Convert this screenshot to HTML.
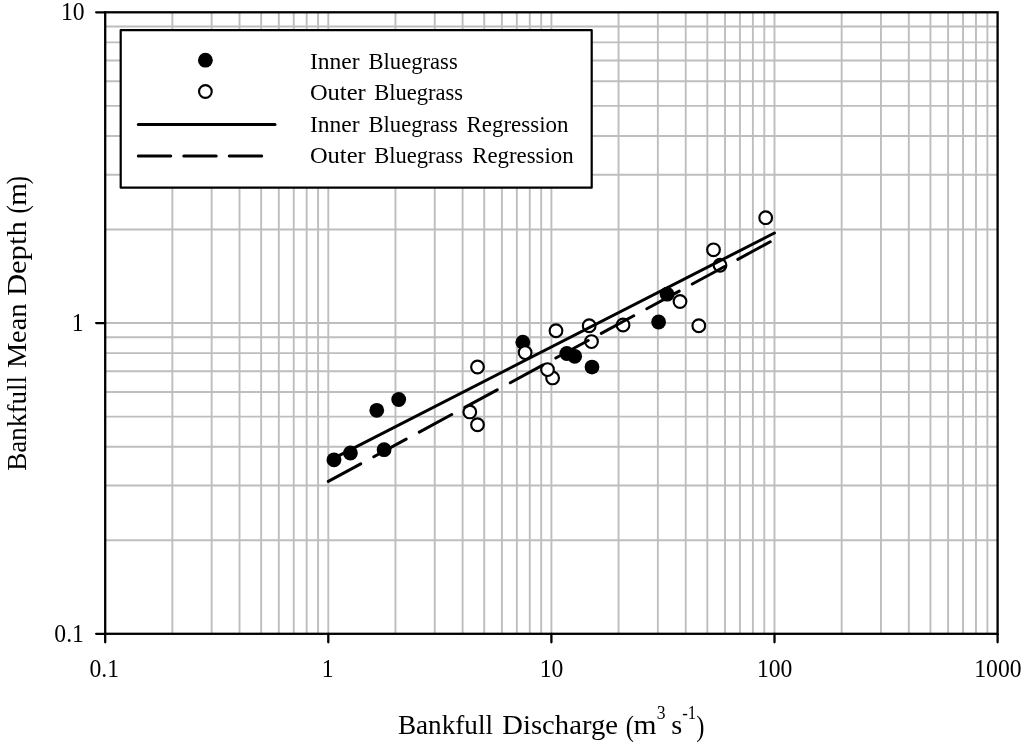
<!DOCTYPE html>
<html lang="en"><head><meta charset="utf-8"><title>Bankfull Mean Depth vs Bankfull Discharge</title>
<style>html,body{margin:0;padding:0;background:#fff}svg{display:block}text{font-family:"Liberation Serif","DejaVu Serif",serif;fill:#000}</style></head><body>
<svg width="1024" height="749" viewBox="0 0 1024 749">
<rect width="1024" height="749" fill="#fff"/>
<path d="M172.36 12.3 V633.8 M211.65 12.3 V633.8 M239.52 12.3 V633.8 M261.14 12.3 V633.8 M278.81 12.3 V633.8 M293.74 12.3 V633.8 M306.68 12.3 V633.8 M318.09 12.3 V633.8 M328.30 12.3 V633.8 M395.46 12.3 V633.8 M434.75 12.3 V633.8 M462.62 12.3 V633.8 M484.24 12.3 V633.8 M501.91 12.3 V633.8 M516.84 12.3 V633.8 M529.78 12.3 V633.8 M541.19 12.3 V633.8 M551.40 12.3 V633.8 M618.56 12.3 V633.8 M657.85 12.3 V633.8 M685.72 12.3 V633.8 M707.34 12.3 V633.8 M725.01 12.3 V633.8 M739.94 12.3 V633.8 M752.88 12.3 V633.8 M764.29 12.3 V633.8 M774.50 12.3 V633.8 M841.66 12.3 V633.8 M880.95 12.3 V633.8 M908.82 12.3 V633.8 M930.44 12.3 V633.8 M948.11 12.3 V633.8 M963.04 12.3 V633.8 M975.98 12.3 V633.8 M987.39 12.3 V633.8 M105.2 540.25 H997.6 M105.2 485.53 H997.6 M105.2 446.71 H997.6 M105.2 416.60 H997.6 M105.2 391.99 H997.6 M105.2 371.19 H997.6 M105.2 353.16 H997.6 M105.2 337.27 H997.6 M105.2 323.05 H997.6 M105.2 229.50 H997.6 M105.2 174.78 H997.6 M105.2 135.96 H997.6 M105.2 105.85 H997.6 M105.2 81.24 H997.6 M105.2 60.44 H997.6 M105.2 42.41 H997.6 M105.2 26.52 H997.6" stroke="#bebebe" stroke-width="1.9" fill="none"/>
<rect x="105.2" y="12.3" width="892.40" height="621.50" fill="none" stroke="#000" stroke-width="2.3"/>
<path d="M96.15 633.80 H105.2 M96.15 323.05 H105.2 M96.15 12.30 H105.2 M105.20 633.8 V642.25 M328.30 633.8 V642.25 M551.40 633.8 V642.25 M774.50 633.8 V642.25 M997.60 633.8 V642.25" stroke="#000" stroke-width="2.3" stroke-linecap="round" fill="none"/>
<circle cx="334.0" cy="459.8" r="7.4"/>
<circle cx="350.4" cy="453.0" r="7.4"/>
<circle cx="384.1" cy="449.7" r="7.4"/>
<circle cx="376.75" cy="410.3" r="7.4"/>
<circle cx="398.7" cy="399.5" r="7.4"/>
<circle cx="522.8" cy="342.2" r="7.4"/>
<circle cx="566.8" cy="353.5" r="7.4"/>
<circle cx="574.7" cy="356.3" r="7.4"/>
<circle cx="592.0" cy="367.1" r="7.4"/>
<circle cx="658.6" cy="322.0" r="7.4"/>
<circle cx="667.1" cy="294.2" r="7.4"/>
<circle cx="477.5" cy="367" r="6.35" fill="#fff" stroke="#000" stroke-width="2.15"/>
<circle cx="469.8" cy="411.9" r="6.35" fill="#fff" stroke="#000" stroke-width="2.15"/>
<circle cx="477.5" cy="424.7" r="6.35" fill="#fff" stroke="#000" stroke-width="2.15"/>
<circle cx="525.1" cy="352.6" r="6.35" fill="#fff" stroke="#000" stroke-width="2.15"/>
<circle cx="556.0" cy="330.7" r="6.35" fill="#fff" stroke="#000" stroke-width="2.15"/>
<circle cx="589.2" cy="325.7" r="6.35" fill="#fff" stroke="#000" stroke-width="2.15"/>
<circle cx="591.5" cy="341.6" r="6.35" fill="#fff" stroke="#000" stroke-width="2.15"/>
<circle cx="552.6" cy="377.9" r="6.35" fill="#fff" stroke="#000" stroke-width="2.15"/>
<circle cx="547.5" cy="369.6" r="6.35" fill="#fff" stroke="#000" stroke-width="2.15"/>
<circle cx="623.05" cy="325.05" r="6.35" fill="#fff" stroke="#000" stroke-width="2.15"/>
<circle cx="680.0" cy="301.5" r="6.35" fill="#fff" stroke="#000" stroke-width="2.15"/>
<circle cx="698.8" cy="325.7" r="6.35" fill="#fff" stroke="#000" stroke-width="2.15"/>
<circle cx="713.5" cy="249.8" r="6.35" fill="#fff" stroke="#000" stroke-width="2.15"/>
<circle cx="720.0" cy="265.2" r="6.35" fill="#fff" stroke="#000" stroke-width="2.15"/>
<circle cx="765.7" cy="217.7" r="6.35" fill="#fff" stroke="#000" stroke-width="2.15"/>
<line x1="328.2" y1="461.1" x2="774.4" y2="233.0" stroke="#000" stroke-width="3" stroke-linecap="round"/>
<line x1="328.3" y1="481.4" x2="774.4" y2="239.52" stroke="#000" stroke-width="3" stroke-linecap="round" stroke-dasharray="36.86 14.90"/>
<rect x="120.7" y="30.2" width="471" height="157.5" fill="#fff" stroke="#000" stroke-width="2.2" stroke-linejoin="round"/>
<circle cx="205.4" cy="60.2" r="7.4"/>
<circle cx="205.4" cy="91.5" r="6.35" fill="#fff" stroke="#000" stroke-width="2.15"/>
<line x1="138.3" y1="124.4" x2="275.0" y2="124.4" stroke="#000" stroke-width="3" stroke-linecap="round"/>
<line x1="138.3" y1="155.9" x2="262" y2="155.9" stroke="#000" stroke-width="3" stroke-linecap="round" stroke-dasharray="32.4 13.1"/>
<text y="69.2" font-size="23.4"><tspan x="309.9" textLength="49.6" lengthAdjust="spacingAndGlyphs">Inner</tspan> <tspan x="368.5" textLength="89.2" lengthAdjust="spacingAndGlyphs">Bluegrass</tspan></text>
<text y="100.4" font-size="23.4"><tspan x="309.9" textLength="55.8" lengthAdjust="spacingAndGlyphs">Outer</tspan> <tspan x="374.2" textLength="88.9" lengthAdjust="spacingAndGlyphs">Bluegrass</tspan></text>
<text y="131.7" font-size="23.4"><tspan x="309.9" textLength="49.6" lengthAdjust="spacingAndGlyphs">Inner</tspan> <tspan x="368.5" textLength="89.2" lengthAdjust="spacingAndGlyphs">Bluegrass</tspan> <tspan x="466.5" textLength="102.0" lengthAdjust="spacingAndGlyphs">Regression</tspan></text>
<text y="163.0" font-size="23.4"><tspan x="309.9" textLength="55.8" lengthAdjust="spacingAndGlyphs">Outer</tspan> <tspan x="374.2" textLength="88.9" lengthAdjust="spacingAndGlyphs">Bluegrass</tspan> <tspan x="472.2" textLength="101.4" lengthAdjust="spacingAndGlyphs">Regression</tspan></text>
<text x="60.96" y="20.3" font-size="24.5" textLength="23.64" lengthAdjust="spacingAndGlyphs">10</text>
<text x="71.78" y="330.8" font-size="24.5" textLength="11.82" lengthAdjust="spacingAndGlyphs">1</text>
<text x="54.35" y="641.6" font-size="24.5" textLength="29.55" lengthAdjust="spacingAndGlyphs">0.1</text>
<text x="89.52" y="676.6" font-size="24.5" textLength="29.55" lengthAdjust="spacingAndGlyphs">0.1</text>
<text x="321.79" y="676.6" font-size="24.5" textLength="11.82" lengthAdjust="spacingAndGlyphs">1</text>
<text x="539.68" y="676.6" font-size="24.5" textLength="23.64" lengthAdjust="spacingAndGlyphs">10</text>
<text x="756.97" y="676.6" font-size="24.5" textLength="35.46" lengthAdjust="spacingAndGlyphs">100</text>
<text x="974.26" y="676.6" font-size="24.5" textLength="47.28" lengthAdjust="spacingAndGlyphs">1000</text>
<g transform="translate(26 470.7) rotate(-90)">
<text><tspan x="0.0" y="0" font-size="28.2" textLength="94.7" lengthAdjust="spacingAndGlyphs">Bankfull</tspan> <tspan x="102.6" y="0" font-size="28.2" textLength="64.6" lengthAdjust="spacingAndGlyphs">Mean</tspan> <tspan x="174.6" y="0" font-size="28.2" textLength="74.8" lengthAdjust="spacingAndGlyphs">Depth</tspan> <tspan x="257.2" y="1.2" font-size="30.4" textLength="8.2" lengthAdjust="spacingAndGlyphs">(</tspan><tspan x="265.0" y="0" font-size="28.2" textLength="22.8" lengthAdjust="spacingAndGlyphs">m</tspan><tspan x="286.5" y="1.2" font-size="30.4" textLength="8.2" lengthAdjust="spacingAndGlyphs">)</tspan></text>
</g>
<text><tspan x="397.9" y="734.2" font-size="28.2" textLength="95.1" lengthAdjust="spacingAndGlyphs">Bankfull</tspan> <tspan x="502.3" y="734.2" font-size="28.2" textLength="115.7" lengthAdjust="spacingAndGlyphs">Discharge</tspan> <tspan x="625.8" y="735.5" font-size="30.4" textLength="8.2" lengthAdjust="spacingAndGlyphs">(</tspan><tspan x="633.6" y="734.2" font-size="28.2" textLength="23.0" lengthAdjust="spacingAndGlyphs">m</tspan><tspan x="656.8" y="719.3" font-size="19.6" textLength="8.8" lengthAdjust="spacingAndGlyphs">3</tspan> <tspan x="671.2" y="734.2" font-size="28.2" textLength="11.0" lengthAdjust="spacingAndGlyphs">s</tspan><tspan x="682.2" y="719.3" font-size="19.6" textLength="14.0" lengthAdjust="spacingAndGlyphs">-1</tspan><tspan x="696.2" y="735.5" font-size="30.4" textLength="8.2" lengthAdjust="spacingAndGlyphs">)</tspan></text>
</svg></body></html>
